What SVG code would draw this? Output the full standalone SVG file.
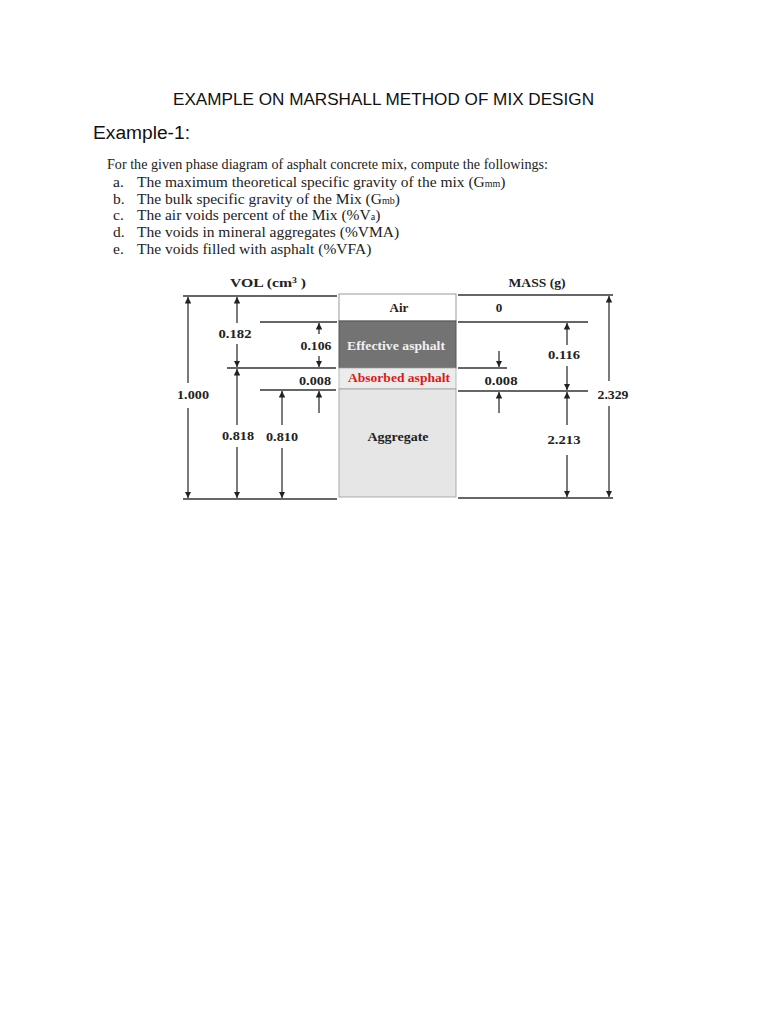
<svg xmlns="http://www.w3.org/2000/svg" width="768" height="1024" viewBox="0 0 768 1024">
<style>
.title{font-family:"Century Gothic","URW Gothic","Liberation Sans",sans-serif;fill:#111}
.q{font-family:"Liberation Serif",serif;font-size:15.5px;fill:#222}
.sub{font-size:10px}
.lb{font-family:"Liberation Serif",serif;font-size:13px;font-weight:bold;fill:#222;text-anchor:middle}
.ln{stroke:#333;stroke-width:1.3;fill:none}
.ar{stroke:#333;stroke-width:1.3;fill:none}
</style>
<defs>
<marker id="ah" viewBox="0 0 10 10" refX="10" refY="5" markerWidth="5" markerHeight="5" orient="auto-start-reverse">
<path d="M0,0 L10,5 L0,10 z" fill="#222"/>
</marker>
</defs>
<rect width="768" height="1024" fill="#fff"/>
<text class="title" x="173" y="105" font-size="17" textLength="421" lengthAdjust="spacingAndGlyphs">EXAMPLE ON MARSHALL METHOD OF MIX DESIGN</text>
<text class="title" x="93" y="139" font-size="18" textLength="97" lengthAdjust="spacingAndGlyphs">Example-1:</text>
<g id="questions">
<text class="q" x="107" y="169" style="font-size:15px" textLength="441" lengthAdjust="spacingAndGlyphs">For the given phase diagram of asphalt concrete mix, compute the followings:</text>
<text class="q" x="113" y="187">a.</text>
<text class="q" x="137" y="187">The maximum theoretical specific gravity of the mix (G<tspan class="sub">mm</tspan>)</text>
<text class="q" x="113" y="204">b.</text>
<text class="q" x="137" y="204">The bulk specific gravity of the Mix (G<tspan class="sub">mb</tspan>)</text>
<text class="q" x="113" y="220">c.</text>
<text class="q" x="137" y="220">The air voids percent of the Mix (%V<tspan class="sub">a</tspan>)</text>
<text class="q" x="113" y="237">d.</text>
<text class="q" x="137" y="237">The voids in mineral aggregates (%VMA)</text>
<text class="q" x="113" y="254">e.</text>
<text class="q" x="137" y="254">The voids filled with asphalt (%VFA)</text>
</g>
<g id="headers">
<text class="lb" x="268" y="287" textLength="76" lengthAdjust="spacingAndGlyphs">VOL (cm<tspan font-size="8" dy="-4">3</tspan><tspan dy="4"> )</tspan></text>
<text class="lb" x="537" y="287" textLength="57" lengthAdjust="spacingAndGlyphs">MASS (g)</text>
</g>
<g id="phase-box">
<rect x="339" y="294" width="117" height="27" fill="#fff" stroke="#999" stroke-width="1"/>
<rect x="339" y="321" width="117" height="47" fill="#737373" stroke="#555" stroke-width="1"/>
<rect x="339" y="368" width="117" height="21" fill="#ececec" stroke="#aaa" stroke-width="0.8"/>
<rect x="339" y="389" width="117" height="108" fill="#e6e6e6" stroke="#999" stroke-width="0.8"/>
<text class="lb" x="399" y="312">Air</text>
<text class="lb" x="396" y="350" style="fill:#f0f0f0" textLength="98" lengthAdjust="spacingAndGlyphs">Effective asphalt</text>
<text class="lb" x="399" y="382" style="fill:#e01818" textLength="102" lengthAdjust="spacingAndGlyphs">Absorbed asphalt</text>
<text class="lb" x="398" y="441" textLength="61" lengthAdjust="spacingAndGlyphs">Aggregate</text>
</g>
<g id="connectors">
<line class="ln" x1="183" y1="296" x2="337" y2="296"/>
<line class="ln" x1="260" y1="322" x2="337" y2="322"/>
<line class="ln" x1="227" y1="368" x2="336" y2="368"/>
<line class="ln" x1="260" y1="390" x2="336" y2="390" stroke-width="0.8"/>
<line class="ln" x1="183" y1="499" x2="337" y2="499"/>
<line class="ar" x1="188" y1="383" x2="188" y2="297" marker-end="url(#ah)"/>
<line class="ar" x1="188" y1="408" x2="188" y2="498" marker-end="url(#ah)"/>
<line class="ar" x1="237" y1="323" x2="237" y2="297" marker-end="url(#ah)"/>
<line class="ar" x1="237" y1="344" x2="237" y2="367" marker-end="url(#ah)"/>
<line class="ar" x1="237" y1="425" x2="237" y2="369" marker-end="url(#ah)"/>
<line class="ar" x1="237" y1="447" x2="237" y2="498" marker-end="url(#ah)"/>
<line class="ar" x1="319" y1="334" x2="319" y2="323" marker-end="url(#ah)"/>
<line class="ar" x1="319" y1="356" x2="319" y2="367" marker-end="url(#ah)"/>
<line class="ar" x1="319" y1="413" x2="319" y2="391" marker-end="url(#ah)"/>
<line class="ar" x1="282" y1="425" x2="282" y2="391" marker-end="url(#ah)"/>
<line class="ar" x1="282" y1="448" x2="282" y2="498" marker-end="url(#ah)"/>
<line class="ln" x1="458" y1="295" x2="613" y2="295"/>
<line class="ln" x1="458" y1="322" x2="588" y2="322"/>
<line class="ln" x1="458" y1="368" x2="507" y2="368" stroke-width="0.8"/>
<line class="ln" x1="458" y1="391" x2="588" y2="391"/>
<line class="ln" x1="458" y1="498" x2="613" y2="498"/>
<line class="ar" x1="609" y1="381" x2="609" y2="296" marker-end="url(#ah)"/>
<line class="ar" x1="609" y1="406" x2="609" y2="497" marker-end="url(#ah)"/>
<line class="ar" x1="567" y1="345" x2="567" y2="323" marker-end="url(#ah)"/>
<line class="ar" x1="567" y1="366" x2="567" y2="390" marker-end="url(#ah)"/>
<line class="ar" x1="567" y1="425" x2="567" y2="392" marker-end="url(#ah)"/>
<line class="ar" x1="567" y1="455" x2="567" y2="497" marker-end="url(#ah)"/>
<line class="ar" x1="499" y1="351" x2="499" y2="367" marker-end="url(#ah)"/>
<line class="ar" x1="499" y1="413" x2="499" y2="392" marker-end="url(#ah)"/>
</g>
<g id="labels">
<text class="lb" x="193" y="399" textLength="32" lengthAdjust="spacingAndGlyphs">1.000</text>
<text class="lb" x="235" y="338" textLength="33" lengthAdjust="spacingAndGlyphs">0.182</text>
<text class="lb" x="316" y="350" textLength="31" lengthAdjust="spacingAndGlyphs" style="font-size:11.5px">0.106</text>
<text class="lb" x="315" y="385" textLength="32" lengthAdjust="spacingAndGlyphs">0.008</text>
<text class="lb" x="238" y="440" textLength="32" lengthAdjust="spacingAndGlyphs">0.818</text>
<text class="lb" x="282" y="441" textLength="32" lengthAdjust="spacingAndGlyphs">0.810</text>
<text class="lb" x="499" y="312">0</text>
<text class="lb" x="564" y="359" textLength="32" lengthAdjust="spacingAndGlyphs">0.116</text>
<text class="lb" x="501" y="385" textLength="33" lengthAdjust="spacingAndGlyphs">0.008</text>
<text class="lb" x="613" y="399" textLength="31" lengthAdjust="spacingAndGlyphs">2.329</text>
<text class="lb" x="564" y="444" textLength="33" lengthAdjust="spacingAndGlyphs">2.213</text>
</g>
</svg>
